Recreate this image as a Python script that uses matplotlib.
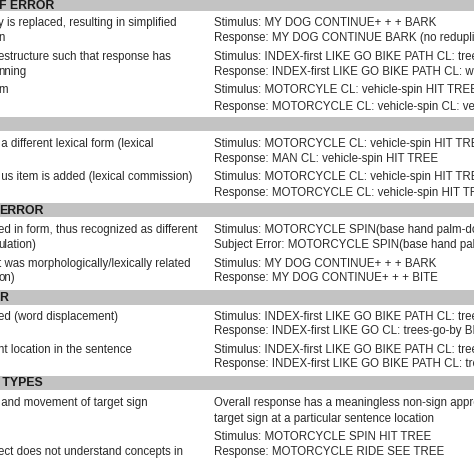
import matplotlib.pyplot as plt
from matplotlib.patches import Rectangle

plt.rcParams['font.family'] = ['Liberation Sans', 'DejaVu Sans']

# gray section bands (top, bottom) and their header text
band_spans = [(0, 11), (117, 131), (203, 217), (290, 305), (376, 390)]
band_titles = ['F ERROR', '', 'ERROR', 'R', ' TYPES']

left_lines = [
    (23, 'y is replaced, resulting in simplified'),
    (38, 'n'),
    (57, 'estructure such that response has'),
    (72, 'nning'),
    (90, 'm'),
    (144, ' a different lexical form (lexical'),
    (177, ' us item is added (lexical commission)'),
    (230, 'ed in form, thus recognized as different'),
    (245, 'ulation)'),
    (264, 't was morphologically/lexically related'),
    (278, 'on)'),
    (317, 'ed (word displacement)'),
    (350, 'nt location in the sentence'),
    (403, ' and movement of target sign'),
    (452, 'ect does not understand concepts in'),
]

right_lines = [
    (23, 'Stimulus: MY DOG CONTINUE+ + + BARK'),
    (38, 'Response: MY DOG CONTINUE BARK (no reduplication)'),
    (57, 'Stimulus: INDEX-first LIKE GO BIKE PATH CL: trees-go-by'),
    (72, 'Response: INDEX-first LIKE GO BIKE PATH CL: wind'),
    (90, 'Stimulus: MOTORCYLE CL: vehicle-spin HIT TREE'),
    (107, 'Response: MOTORCYCLE CL: vehicle-spin CL: vehicle'),
    (144, 'Stimulus: MOTORCYCLE CL: vehicle-spin HIT TREE'),
    (159, 'Response: MAN CL: vehicle-spin HIT TREE'),
    (177, 'Stimulus: MOTORCYCLE CL: vehicle-spin HIT TREE'),
    (193, 'Response: MOTORCYCLE CL: vehicle-spin HIT TREE'),
    (230, 'Stimulus: MOTORCYCLE SPIN(base hand palm-down)'),
    (245, 'Subject Error: MOTORCYCLE SPIN(base hand palm-down)'),
    (264, 'Stimulus: MY DOG CONTINUE+ + + BARK'),
    (278, 'Response: MY DOG CONTINUE+ + + BITE'),
    (317, 'Stimulus: INDEX-first LIKE GO BIKE PATH CL: trees-go-by'),
    (331, 'Response: INDEX-first LIKE GO CL: trees-go-by BIKE'),
    (350, 'Stimulus: INDEX-first LIKE GO BIKE PATH CL: trees-go-by'),
    (364, 'Response: INDEX-first LIKE GO BIKE PATH CL: trees'),
    (403, 'Overall response has a meaningless non-sign approximation of'),
    (419, 'target sign at a particular sentence location'),
    (437, 'Stimulus: MOTORCYCLE SPIN HIT TREE'),
    (452, 'Response: MOTORCYCLE RIDE SEE TREE'),
]

fig = plt.figure(figsize=(4.74, 4.74), dpi=100)
ax = fig.add_axes([0, 0, 1, 1])
ax.set_xlim(0, 474)
ax.set_ylim(474, 0)
ax.axis('off')

txt = '#2a2a2a'
for (top, bot), title in zip(band_spans, band_titles):
    ax.add_patch(Rectangle((0, top), 474, bot - top, color='#c3c3c3', lw=0))
    ax.text(-1, (top + bot) / 2 + 0.5, title, fontsize=8.8, fontweight='bold',
            color='#1a1a1a', va='center', ha='left')

for y, s in left_lines:
    ax.text(-2, y, s, fontsize=8.3, color=txt, va='center', ha='left')
for y, s in right_lines:
    ax.text(214, y, s, fontsize=8.3, color=txt, va='center', ha='left')

fig.savefig('out.png', dpi=100)
